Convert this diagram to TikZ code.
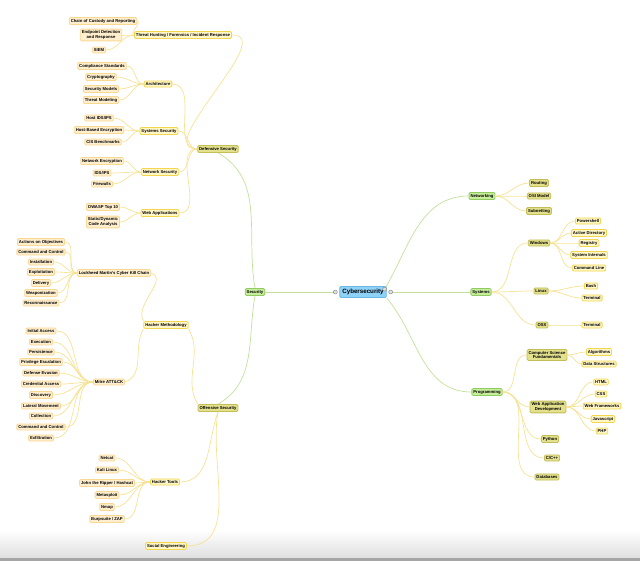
\documentclass[tikz,border=0pt]{standalone}
\usepackage{fontspec}
\setmainfont{Liberation Sans}
\definecolor{leafF}{HTML}{FFEFCF}\definecolor{leafD}{HTML}{F9D892}
\definecolor{ylF}{HTML}{FFF7C8}\definecolor{ylD}{HTML}{F2D650}
\definecolor{olF}{HTML}{E3E08E}\definecolor{olD}{HTML}{C4BE55}
\definecolor{grF}{HTML}{C8EE9C}\definecolor{grD}{HTML}{8FCB60}
\definecolor{rtF}{HTML}{8FD2F7}\definecolor{rtD}{HTML}{6BB8E6}
\definecolor{wireG}{HTML}{C3E09B}\definecolor{wireY}{HTML}{F6E294}
\tikzset{
  box/.style={rounded corners=1.2pt,inner sep=1.5pt,line width=0.8pt,align=center,
    font=\fontsize{4.2}{4.8}\selectfont\bfseries},
  leaf/.style={box,fill=leafF,draw=leafD},
  twig/.style={box,fill=ylF,draw=ylD},
  branch/.style={box,fill=olF,draw=olD},
  main/.style={box,fill=grF,draw=grD},
  rootbox/.style={box,fill=rtF,draw=rtD,inner sep=2.6pt,font=\fontsize{6.2}{7.2}\selectfont\bfseries},
  wireg/.style={draw=wireG,line width=0.7pt},
  wirey/.style={draw=wireY,line width=0.7pt},
  knob/.style={circle,draw=gray,fill=gray!25,inner sep=0pt,minimum size=4pt}
}
\begin{document}
\begin{tikzpicture}[x=1pt,y=-1pt]
\useasboundingbox (0,0) rectangle (640,561);
\shade[top color=white,bottom color=gray!25] (0,530) rectangle (640,558);
\fill[gray!70] (0,558) rectangle (640,561);
% root and main branches
\node[rootbox] (cyber) at (363,292) {Cybersecurity};
\node[knob] (k1) at ([xshift=-4pt]cyber.west) {};
\node[knob] (k2) at ([xshift=4pt]cyber.east) {};
\node[knob] (k3) at ([shift={(-2pt,-3pt)}]cyber.north east) {};
\node[main] (sec) at (255,292) {Security};
\node[main] (net) at (482,196) {Networking};
\node[main] (sys) at (481,292) {Systems};
\node[main] (prog) at (487,392) {Programming};
\draw[wireg] (k1) -- (sec.east);
\draw[wireg] (k2) -- (sys.west);
\draw[wireg] (k3) to[out=60,in=180] (net.west);
\draw[wireg] (cyber.south east) to[out=-50,in=180] (prog.west);
\node[branch] (def) at (218,149) {Defensive Security};
\node[branch] (off) at (218,408) {Offensive Security};
\draw[wireg] (sec.north) to[out=100,in=-30] (def.south);
\draw[wireg] (sec.south) to[out=-100,in=30] (off.north);
% defensive
\foreach \n/\x/\y/\t in {thr/183/35/{Threat Hunting / Forensics / Incident Response},
  arch/158/84/Architecture, syssec/159/131/Systems Security,
  netsec/160/172/Network Security, webapp/160/213/Web Applications}{
  \node[twig] (\n) at (\x,\y) {\t};
  \draw[wirey] (def.west) to[out=180,in=0] (\n.east);
}
\foreach \p/\n/\x/\y/\t in {thr/coc/103/21/Chain of Custody and Reporting,
  thr/edr/101/35/Endpoint Detection\\and Response, thr/siem/99/50/SIEM,
  arch/comp/102/66/Compliance Standards, arch/cry/101/77/Cryptography,
  arch/secm/101/89/Security Models, arch/thm/101/100/Threat Modeling,
  syssec/hids/99/118/{Host IDS/IPS}, syssec/hbe/99/130/Host-Based Encryption,
  syssec/cis/103/142/CIS Benchmarks,
  netsec/nenc/102/161/Network Encryption, netsec/ids/102/173/{IDS/IPS},
  netsec/fw/102/184/Firewalls,
  webapp/owasp/103/207/OWASP Top 10, webapp/sdca/103/222/{Static/Dynamic\\Code Analysis}}{
  \node[leaf] (\n) at (\x,\y) {\t};
  \draw[wirey] (\p.west) to[out=180,in=0] (\n.east);
}
% offensive
\node[twig] (hm) at (166,325) {Hacker Methodology};
\node[twig] (ht) at (165,482) {Hacker Tools};
\node[twig] (se) at (166,546) {Social Engineering};
\draw[wirey] (off.north west) to[out=120,in=-60] (hm.south east);
\draw[wirey] (off.south) to[out=-110,in=0] (ht.east);
\draw[wirey] (off.south) to[out=-100,in=0] (se.east);
\node[leaf] (lmk) at (114,273) {Lockheed Martin's Cyber Kill Chain};
\node[leaf] (mitre) at (109,382) {Mitre ATT\&CK};
\draw[wirey] (hm.north west) to[out=120,in=-20] (lmk.east);
\draw[wirey] (hm.south west) to[out=-120,in=20] (mitre.east);
\foreach \n/\y/\t in {aoo/242/Actions on Objectives, cc1/252/Command and Control,
  inst/262/Installation, expl/272/Exploitation, deli/283/Delivery,
  weap/293/Weaponization, reco/303/Reconnaissance}{
  \node[leaf] (\n) at (41,\y) {\t};
  \draw[wirey] (lmk.west) to[out=180,in=0] (\n.east);
}
\foreach \n/\y/\t in {ia/331/Initial Access, exe/342/Execution, pers/352/Persistence,
  pe/362/Privilege Escalation, de/373/Defense Evasion, ca/384/Credential Access,
  disc/395/Discovery, lm/406/Lateral Movement, coll/416/Collection,
  cc2/427/Command and Control, exf/438/Exfiltration}{
  \node[leaf] (\n) at (41,\y) {\t};
  \draw[wirey] (mitre.west) to[out=180,in=0] (\n.east);
}
\foreach \n/\y/\t in {nc/458/Netcat, kali/470/Kali Linux, john/483/{John the Ripper / Hashcat},
  msf/495/Metasploit, nmap/507/Nmap, burp/519/{Burpsuite / ZAP}}{
  \node[leaf] (\n) at (107,\y) {\t};
  \draw[wirey] (ht.west) to[out=180,in=0] (\n.east);
}
% right side
\foreach \p/\n/\x/\y/\t in {net/rout/539/183/Routing, net/osi/539/196/OSI Model,
  net/subn/539/211/Subnetting, sys/win/539/243/Windows, sys/lin/541/291/Linux,
  sys/osx/542/325/OSX, prog/csf/547/355/Computer Science\\Fundamentals,
  prog/wad/548/407/Web Application\\Development, prog/py/550/439/Python,
  prog/cpp/552/458/{C/C++}, prog/db/547/477/Databases}{
  \node[branch] (\n) at (\x,\y) {\t};
  \draw[wirey] (\p.east) to[out=0,in=180] (\n.west);
}
\foreach \p/\n/\x/\y/\t in {win/ps/588/221/Powershell, win/ad/589/233/Active Directory,
  win/reg/589/243/Registry, win/si/589/255/System Internals, win/cl/589/268/Command Line,
  lin/bash/591/286/Bash, lin/term1/592/298/Terminal, osx/term2/592/325/Terminal,
  csf/alg/599/352/Algorithms, csf/ds/599/364/Data Structures,
  wad/html/601/382/HTML, wad/css/601/394/CSS, wad/wf/602/406/Web Frameworks,
  wad/js/603/419/Javascript, wad/php/602/431/PHP}{
  \node[twig] (\n) at (\x,\y) {\t};
  \draw[wirey] (\p.east) to[out=0,in=180] (\n.west);
}
\end{tikzpicture}
\end{document}
